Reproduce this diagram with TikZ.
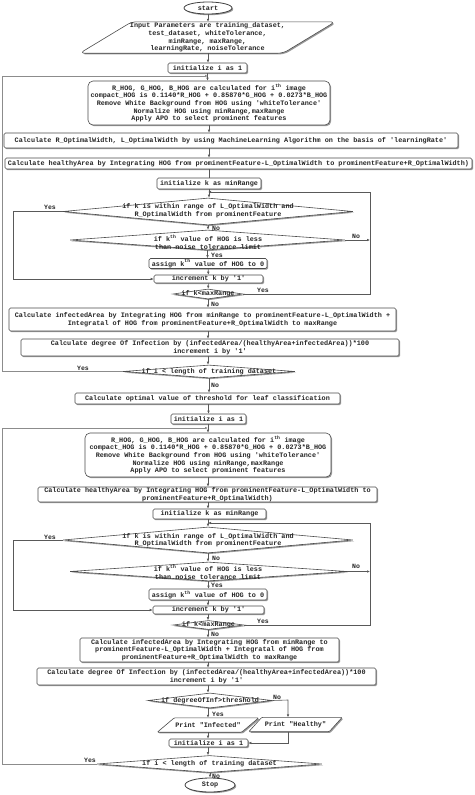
\documentclass[tikz,border=0pt]{standalone}
\usepackage{fontspec}
\newfontfamily\mono{Liberation Mono}
\usetikzlibrary{arrows.meta,shapes.geometric,shadows,backgrounds}
\newcommand{\tq}{\textquotesingle}
\newcommand{\dq}{\textquotedbl}
\newcommand{\thsup}{\textsuperscript{th}}
\tikzset{
  txt/.style={font=\mono\bfseries\fontsize{6.8}{7.6}\selectfont, align=center, text=black!85},
  shad/.style={drop shadow={shadow xshift=1.2pt,shadow yshift=-1.2pt,fill=black!40,opacity=1}},
  box/.style={txt, draw=black!70, line width=0.6pt, fill=white, rounded corners=1.5pt, inner sep=0.5pt, shad},
  rbox/.style={box, rounded corners=5pt},
  dia/.style={diamond, draw=black!70, line width=0.6pt, fill=white, inner sep=0pt, shad},
  dtxt/.style={txt, inner sep=0pt},
  ptxt/.style={txt, inner sep=0pt},
  pshape/.style={draw=black!70, line width=0.6pt, fill=white, shad},
  term/.style={txt, ellipse, draw=black!75, line width=0.8pt, fill=white, inner sep=0pt, shad},
  arr/.style={draw=black!65, line width=0.6pt, -{Latex[length=3pt,width=2.6pt]}},
  ln/.style={draw=black!65, line width=0.6pt},
  loopl/.style={draw=black!45, line width=1pt, -{Latex[length=3pt,width=2.6pt]}},
  lbl/.style={font=\mono\bfseries\fontsize{6.5}{7}\selectfont, inner sep=0pt, text=black!85},
}
\begin{document}
\begin{tikzpicture}[x=1pt,y=-1pt]
\useasboundingbox (0,0) rectangle (474,795);
% helper x positions
\coordinate (xL) at (13,0);
\coordinate (xR) at (370,0);
\coordinate (xO) at (2.5,0);
\coordinate (hx) at (288,700);

% ---------- first part ----------
\node[term, minimum width=48pt, minimum height=12pt] (start) at (208,8) {start};
\node[ptxt, minimum width=203pt, minimum height=31pt] (in) at (207.5,37.5)
  {Input Parameters are training\_dataset,\\test\_dataset, whiteTolerance,\\minRange, maxRange,\\learningRate, noiseTolerance};
\node[box, minimum width=79pt, minimum height=10pt] (initI1) at (207.5,68) {initialize i as 1};
\node[rbox, minimum width=242pt, minimum height=44pt] (hog1) at (209,103)
  {R\_HOG, G\_HOG, B\_HOG are calculated for i\thsup{} image\\compact\_HOG is 0.1140*R\_HOG + 0.85870*G\_HOG + 0.0273*B\_HOG\\Remove White Background from HOG using \tq whiteTolerance\tq\\Normalize HOG using minRange,maxRange\\Apply APO to select prominent features};
\node[box, minimum width=454pt, minimum height=15pt] (opt) at (231,140.5)
  {Calculate R\_OptimalWidth, L\_OptimalWidth by using MachineLearning Algorithm on the basis of \tq learningRate\tq};
\node[box, minimum width=467pt, minimum height=11pt] (healthy1) at (238.5,163.5)
  {Calculate healthyArea by Integrating HOG from prominentFeature-L\_OptimalWidth to prominentFeature+R\_OptimalWidth)};
\node[box, minimum width=104pt, minimum height=11pt] (initK1) at (209,183.5) {initialize k as minRange};
\node[dia, minimum width=290pt, minimum height=27pt] (d1) at (208,211.5) {};
\node[dtxt] (d1t) at (208,210.5) {if k is within range of L\_OptimalWidth and\\R\_OptimalWidth from prominentFeature};
\node[dia, minimum width=275pt, minimum height=20pt] (d2) at (207.5,240) {};
\node[dtxt] (d2t) at (208,242) {if k\thsup{} value of HOG is less\\than noise tolerance limit};
\node[box, minimum width=118pt, minimum height=10pt] (assign1) at (208,263.5) {assign k\thsup{} value of HOG to 0};
\node[box, minimum width=109pt, minimum height=8pt] (incK1) at (208.5,279) {increment k by \tq 1\tq};
\node[dia, minimum width=70pt, minimum height=10pt] (d3) at (208,294) {};
\node[dtxt] (d3t) at (208,294) {if k<maxRange};
\node[box, minimum width=387pt, minimum height=23pt] (inf1) at (202.5,319.5)
  {Calculate infectedArea by Integrating HOG from minRange to prominentFeature-L\_OptimalWidth +\\Integratal of HOG from prominentFeature+R\_OptimalWidth to maxRange};
\node[box, minimum width=378pt, minimum height=17pt] (deg1) at (210,347.5)
  {Calculate degree Of Infection by (infectedArea/(healthyArea+infectedArea))*100\\increment i by \tq 1\tq};
\node[dia, minimum width=172pt, minimum height=13pt] (d4) at (209,371.5) {};
\node[dtxt] (d4t) at (209,371.5) {if i < length of training dataset};

% ---------- second part ----------
\node[box, minimum width=265pt, minimum height=11pt] (thr) at (207.5,398.5)
  {Calculate optimal value of threshold for leaf classification};
\node[box, minimum width=75pt, minimum height=10pt] (initI2) at (208.5,419) {initialize i as 1};
\node[rbox, minimum width=246pt, minimum height=44pt] (hog2) at (208,455)
  {R\_HOG, G\_HOG, B\_HOG are calculated for i\thsup{} image\\compact\_HOG is 0.1140*R\_HOG + 0.85870*G\_HOG + 0.0273*B\_HOG\\Remove White Background from HOG using \tq whiteTolerance\tq\\Normalize HOG using minRange,maxRange\\Apply APO to select prominent features};
\node[box, minimum width=339pt, minimum height=15pt] (healthy2) at (207.5,494.5)
  {Calculate healthyArea by Integrating HOG from prominentFeature-L\_OptimalWidth to\\prominentFeature+R\_OptimalWidth)};
\node[box, minimum width=113pt, minimum height=10pt] (initK2) at (209.5,514) {initialize k as minRange};
\node[dia, minimum width=290pt, minimum height=26pt] (d5) at (208,540) {};
\node[dtxt] (d5t) at (208,540) {if k is within range of L\_OptimalWidth and\\R\_OptimalWidth from prominentFeature};
\node[dia, minimum width=277pt, minimum height=19pt] (d6) at (208.5,571.5) {};
\node[dtxt] (d6t) at (208,572.5) {if k\thsup{} value of HOG is less\\than noise tolerance limit};
\node[box, minimum width=118pt, minimum height=11pt] (assign2) at (208,594.5) {assign k\thsup{} value of HOG to 0};
\node[box, minimum width=111pt, minimum height=8pt] (incK2) at (208.5,610) {increment k by \tq 1\tq};
\node[dia, minimum width=71pt, minimum height=9pt] (d7) at (208.5,625) {};
\node[dtxt] (d7t) at (208.5,625) {if k<maxRange};
\node[box, minimum width=259pt, minimum height=24pt] (inf2) at (209.5,650)
  {Calculate infectedArea by Integrating HOG from minRange to\\prominentFeature-L\_OptimalWidth + Integratal of HOG from\\prominentFeature+R\_OptimalWidth to maxRange};
\node[box, minimum width=339pt, minimum height=17pt] (deg2) at (206.5,676.5)
  {Calculate degree Of Infection by (infectedArea/(healthyArea+infectedArea))*100\\increment i by \tq 1\tq};
\node[dia, minimum width=124pt, minimum height=15pt] (d8) at (210,700.5) {};
\node[dtxt] (d8t) at (210,700.5) {if degreeOfInf>threshold};
\node[ptxt, minimum width=84pt, minimum height=14pt] (prInf) at (208,725) {Print \dq Infected\dq};
\node[ptxt, minimum width=80pt, minimum height=14pt] (prHea) at (295.5,724.5) {Print \dq Healthy\dq};
\node[box, minimum width=79pt, minimum height=8pt] (initI3) at (208.5,743) {initialize i as 1};
\node[dia, minimum width=225pt, minimum height=17pt] (d9) at (209.5,764) {};
\node[dtxt] (d9t) at (209.5,764) {if i < length of training dataset};
\node[term, minimum width=50pt, minimum height=14pt] (stop) at (210,785) {Stop};

% parallelogram outlines behind their texts
\begin{pgfonlayer}{background}
\fill[white] (0,0) rectangle (474,795);
\path[pshape, rounded corners=5pt] ([xshift=26pt]in.north west) -- ([xshift=26pt]in.north east)
  -- ([xshift=-26pt]in.south east) -- ([xshift=-26pt]in.south west) -- cycle;
\path[pshape, rounded corners=1pt] ([xshift=8.5pt]prInf.north west) -- ([xshift=8.5pt]prInf.north east)
  -- ([xshift=-8.5pt]prInf.south east) -- ([xshift=-8.5pt]prInf.south west) -- cycle;
\path[pshape, rounded corners=1pt] ([xshift=6.5pt]prHea.north west) -- ([xshift=6.5pt]prHea.north east)
  -- ([xshift=-6.5pt]prHea.south east) -- ([xshift=-6.5pt]prHea.south west) -- cycle;
\end{pgfonlayer}

% ---------- connectors first part ----------
\coordinate (iTop1) at (208,76);
\coordinate (kTop1) at (208,192);
\draw[arr] (start) -- (start |- in.north);
\draw[arr] (start |- in.south) -- (start |- initI1.north);
\draw[arr] (initI1.south) -- (initI1.south |- hog1.north);
\draw[arr] (hog1.south) -- (hog1.south |- opt.north);
\draw[arr] (hog1.south |- opt.south) -- (hog1.south |- healthy1.north);
\draw[ln] (hog1.south |- healthy1.south) -- (initK1.north);
\draw[arr] (initK1.south) -- (initK1.south |- d1.north);
\draw[arr] (d1.south) -- (d1.south |- d2.north);
\draw[arr] (d2.south) -- (d2.south |- assign1.north);
\draw[arr] (assign1) -- (incK1);
\draw[arr] (incK1) -- (d3);
\draw[arr] (d3.south) -- (d3.south |- inf1.north);
\draw[arr] (d3.south |- inf1.south) -- (d3.south |- deg1.north);
\draw[arr] (d3.south |- deg1.south) -- (d3.south |- d4.north);
\draw[arr] (d1.west) -- (d1.west -| xL) |- (incK1.west);
\draw[arr] (d2.east) -- (d2.east -| xR);
\draw[arr] (d3.east) -- (d3.east -| xR) |- (kTop1);
\draw[loopl] (d4.west) -- (d4.west -| xO) |- (iTop1);
\node[lbl] (y1) at (50,207) {Yes};
\node[lbl] (n1) at (216,228) {No};
\node[lbl] (n2) at (356,236) {No};
\node[lbl] (y2) at (217,255) {Yes};
\node[lbl] (y3) at (263,290.5) {Yes};
\node[lbl] (n3) at (215,304) {No};
\node[lbl] (y4) at (83,368) {Yes};
\node[lbl] (n4) at (215,385) {No};

% ---------- connectors second part ----------
\coordinate (iTop2) at (208,428);
\coordinate (kTop2) at (208,523);
\draw[arr] (d4.south) -- (d4.south |- thr.north);
\draw[arr] (thr.south -| initI2) -- (initI2.north);
\draw[arr] (initI2.south -| hog2) -- (hog2.north);
\draw[arr] (hog2.south) -- (hog2.south |- healthy2.north);
\draw[arr] (hog2.south |- healthy2.south) -- (hog2.south |- initK2.north);
\draw[arr] (hog2.south |- initK2.south) -- (hog2.south |- d5.north);
\draw[arr] (d5.south) -- (d5.south |- d6.north);
\draw[arr] (d6.south) -- (d6.south |- assign2.north);
\draw[arr] (assign2) -- (assign2 |- incK2.north);
\draw[arr] (assign2 |- incK2.south) -- (assign2 |- d7.north);
\draw[arr] (assign2 |- d7.south) -- (assign2 |- inf2.north);
\draw[arr] (assign2 |- inf2.south) -- (assign2 |- deg2.north);
\draw[arr] (assign2 |- deg2.south) -- (assign2 |- d8.north);
\draw[arr] (d5.west) -- (d5.west -| xL) |- (incK2.west);
\draw[arr] (d6.east) -- (d6.east -| xR);
\draw[arr] (d7.east) -- (d7.east -| xR) |- (kTop2);
\draw[loopl] (d9.west) -- (d9.west -| xO) |- (iTop2);
\draw[arr] (d8.south -| prInf) -- (prInf.north);
\draw[arr] (d8.east) -- (hx) -- (hx |- prHea.north);
\draw[arr] (hx |- prHea.south) -- (hx |- initI3.east) -- (initI3.east);
\draw[arr] (prInf.south) -- (prInf.south |- initI3.north);
\draw[arr] (prInf.south |- initI3.south) -- (prInf.south |- d9.north);
\draw[arr] (d9.south -| stop) -- (stop.north);
\node[lbl] (y5) at (50,537) {Yes};
\node[lbl] (n5) at (216,558) {No};
\node[lbl] (n6) at (356,566) {No};
\node[lbl] (y6) at (217,585) {Yes};
\node[lbl] (y7) at (263,621) {Yes};
\node[lbl] (n7) at (215,634) {No};
\node[lbl] (n8) at (277,697) {No};
\node[lbl] (y8) at (218,714) {Yes};
\node[lbl] (y9) at (90,760) {Yes};
\node[lbl] (n9) at (216,776) {No};
\end{tikzpicture}
\end{document}
